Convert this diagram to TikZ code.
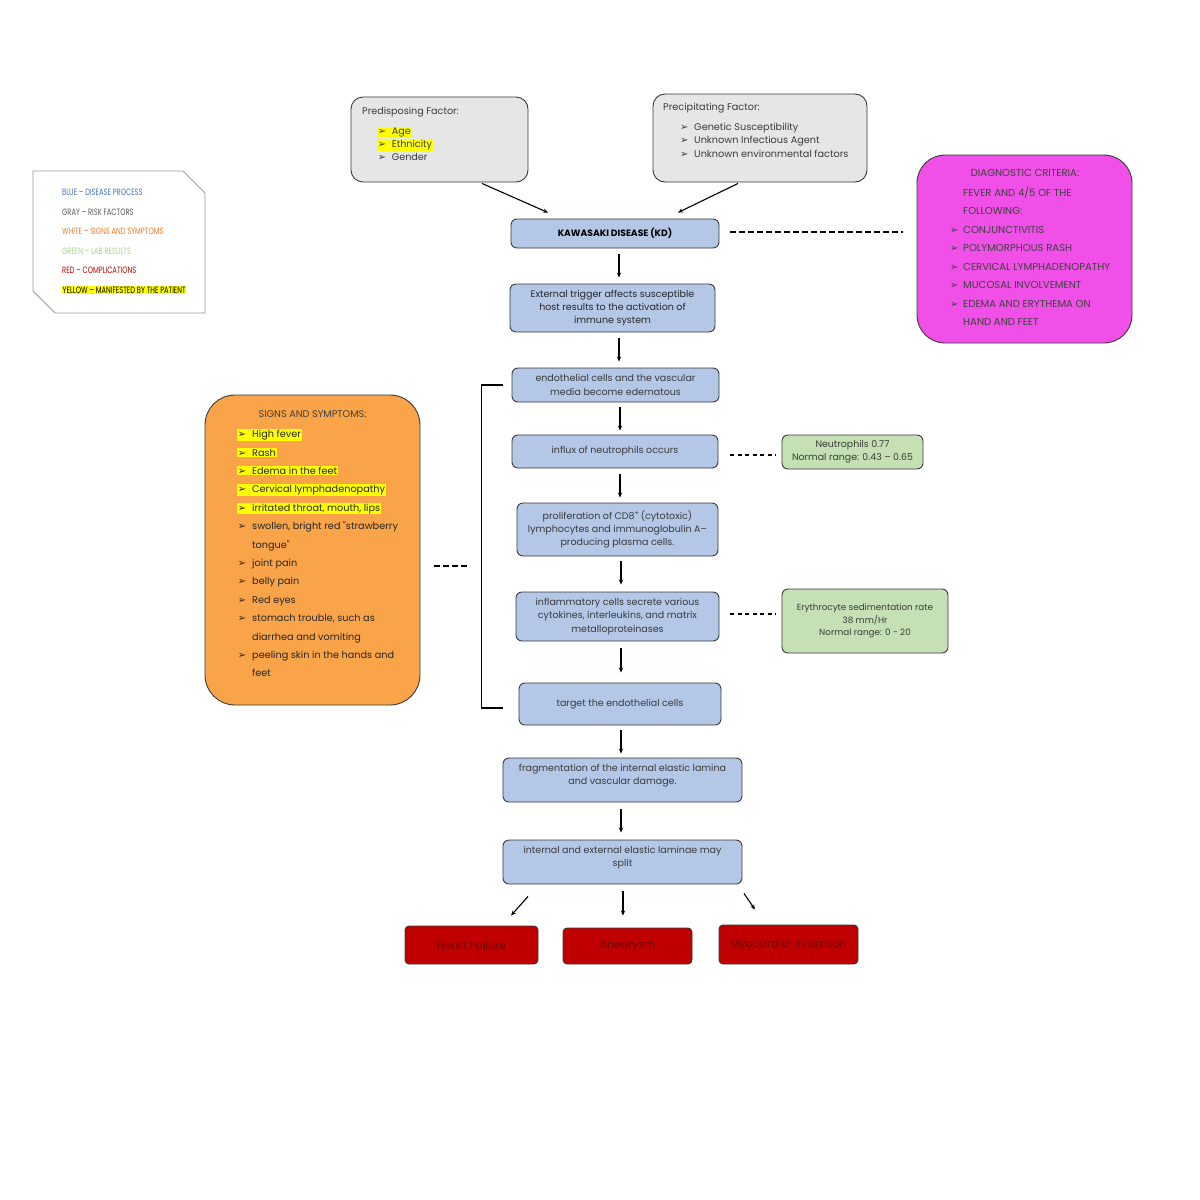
\documentclass[tikz,border=0pt]{standalone}
\usepackage{fontspec}
\setmainfont{Poppins}[Ligatures=TeXOff]
\newfontfamily\dej{DejaVu Sans}
\usetikzlibrary{arrows.meta}
\definecolor{bord}{HTML}{3A3A3A}
\definecolor{bluef}{HTML}{B4C7E7}
\definecolor{grayf}{HTML}{E7E6E6}
\definecolor{magf}{HTML}{F050E8}
\definecolor{orf}{HTML}{F9A449}
\definecolor{grf}{HTML}{C5E0B4}
\definecolor{redf}{HTML}{C00000}
\definecolor{redt}{HTML}{6E0000}
\definecolor{txt}{HTML}{3A3A3A}
\definecolor{dtxt}{HTML}{404040}
\definecolor{hly}{HTML}{FFFF00}
\definecolor{lgblue}{HTML}{4472C4}
\definecolor{lggray}{HTML}{595959}
\definecolor{lgor}{HTML}{ED7D31}
\definecolor{lggr}{HTML}{A9D18E}
\definecolor{lgred}{HTML}{C00000}
\newcommand{\bul}{{\dej\fontsize{10}{10}\selectfont ➢}}
\newcommand{\bl}[1]{\makebox[#1][l]{\bul}}
\newcommand{\hlt}[1]{{\setlength{\fboxsep}{0.7pt}\colorbox{hly}{#1}}}
\newcommand{\lgt}[1]{\scalebox{0.73}[1]{#1}}
\begin{document}
\begin{tikzpicture}[x=1pt,y=-1pt,
  flow/.style={draw=bord, fill=bluef, rounded corners=6pt, line width=0.9pt, align=center, text=txt, font=\fontsize{9.5}{13.2}\selectfont, inner sep=2pt},
  lab/.style={draw=bord, fill=grf, rounded corners=6pt, line width=0.9pt, align=center, text=txt, inner sep=2pt},
  comp/.style={draw=bord, fill=redf, rounded corners=4pt, line width=0.9pt, text=redt, font=\fontsize{11}{12}\selectfont, inner sep=2pt},
  riskbox/.style={draw=bord, fill=grayf, rounded corners=12pt, line width=0.9pt},
  lst/.style={inner sep=0pt, anchor=base west},
  arr/.style={-{Stealth[length=5pt,width=4.2pt]}, line width=1.1pt, black},
  dsh/.style={dashed, dash pattern=on 4pt off 3.5pt, line width=1.4pt, black},
  lg/.style={inner sep=0pt, anchor=base west, font=\fontsize{9.2}{10}\selectfont}
]
\useasboundingbox (0,0) rectangle (1200,1200);
\fill[white] (0,0) rectangle (1200,1200);

% legend
\draw[line width=0.8pt, draw=gray!80] (33,171) -- (183,171) -- (205,193) -- (205,313) -- (55,313) -- (33,291) -- cycle;
\node[lg, text=lgblue] (lg1) at (62,195.5) {\lgt{BLUE – DISEASE PROCESS}};
\node[lg, text=lggray] (lg2) at (62,215.5) {\lgt{GRAY – RISK FACTORS}};
\node[lg, text=lgor] (lg3) at (62,234.5) {\lgt{WHITE – SIGNS AND SYMPTOMS}};
\node[lg, text=lggr] (lg4) at (62,254.5) {\lgt{GREEN – LAB RESULTS}};
\node[lg, text=lgred] (lg5) at (62,273.5) {\lgt{RED – COMPLICATIONS}};
\node[lg, text=black] (lg6) at (62,293.5) {\lgt{\hlt{YELLOW – MANIFESTED BY THE PATIENT}}};

% risk factor boxes
\node[riskbox, minimum width=177, minimum height=85] (pred) at (439.5,139.5) {};
\begin{scope}[every node/.style={lst, text=txt, font=\fontsize{9.6}{11}\selectfont}]
\node (predt) at (362,114.5) {Predisposing Factor:};
\node (pred1) at (377,134.5) {\hlt{\bl{14pt}Age}};
\node (pred2) at (377,147.5) {\hlt{\bl{14pt}Ethnicity}};
\node (pred3) at (377.7,160.5) {\bl{14pt}Gender};
\end{scope}

\node[riskbox, minimum width=214, minimum height=88] (prec) at (760,138) {};
\begin{scope}[every node/.style={lst, text=txt, font=\fontsize{9.7}{11}\selectfont}]
\node (prect) at (663,110.5) {Precipitating Factor:};
\node (prec1) at (680,130.5) {\bl{14pt}Genetic Susceptibility};
\node (prec2) at (680,143.5) {\bl{14pt}Unknown Infectious Agent};
\node (prec3) at (680,157.5) {\bl{14pt}Unknown environmental factors};
\end{scope}

% flow
\node[flow, minimum width=208, minimum height=29, font=\bfseries\fontsize{9.2}{10}\selectfont, text=black] (kd) at (615,233.5) {KAWASAKI DISEASE (KD)};
\node[flow, minimum width=205, minimum height=48, text=black!85] (ext) at (612.5,308) {External trigger affects susceptible\\host results to the activation of\\immune system};
\node[flow, minimum width=207, minimum height=34] (endo) at (615.5,385) {endothelial cells and the vascular\\media become edematous};
\node[flow, minimum width=206, minimum height=33] (influx) at (615,451.5) {influx of neutrophils occurs};
\node[flow, minimum width=201, minimum height=53] (prolif) at (617.5,529.5) {proliferation of CD8\textsuperscript{+}\hspace{-1.5pt} (cytotoxic)\\lymphocytes and immunoglobulin A–\\producing plasma cells.};
\node[flow, minimum width=203, minimum height=49] (infl) at (617.5,616.5) {inflammatory cells secrete various\\cytokines, interleukins, and matrix\\metalloproteinases};
\node[flow, minimum width=202, minimum height=42] (target) at (620,704) {target the endothelial cells};
\node[flow, minimum width=239, minimum height=44] (frag) at (622.5,780) {fragmentation of the internal elastic lamina\\and vascular damage.\\[-2pt]};
\node[flow, minimum width=239, minimum height=44] (split) at (622.5,862) {internal and external elastic laminae may\\split\\[-2pt]};

% complications
\node[comp, minimum width=133, minimum height=38] (hf) at (471.5,945) {Heart Failure};
\node[comp, minimum width=129, minimum height=36] (an) at (627.5,946) {Aneurysm};
\node[comp, minimum width=139, minimum height=39] (mi) at (788.5,944.5) {Myocardial Infarction};

% lab results
\node[lab, minimum width=141, minimum height=34, font=\fontsize{9.4}{13}\selectfont] (neut) at (852.5,452) {Neutrophils 0.77\\Normal range: 0.43 – 0.65};
\node[lab, minimum width=166, minimum height=64, font=\fontsize{8.8}{12.5}\selectfont] (esr) at (865,621) {Erythrocyte sedimentation rate\\38 mm/Hr\\Normal range: 0 - 20};

% diagnostic criteria
\node[draw=bord, fill=magf, rounded corners=28pt, line width=0.9pt, minimum width=215, minimum height=188] (diag) at (1024.5,249) {};
\begin{scope}[every node/.style={lst, text=dtxt, font=\fontsize{10.1}{10}\selectfont}]
\node[anchor=base] (d0) at (1025,176.5) {DIAGNOSTIC CRITERIA:};
\node (d1) at (963,196.5) {FEVER AND 4/5 OF THE};
\node (d2) at (963,214.5) {FOLLOWING:};
\node (d3) at (950,233.5) {\bl{13pt}CONJUNCTIVITIS};
\node (d4) at (950,251.5) {\bl{13pt}POLYMORPHOUS RASH};
\node (d5) at (950,270.5) {\bl{13pt}CERVICAL LYMPHADENOPATHY};
\node (d6) at (950,288.5) {\bl{13pt}MUCOSAL INVOLVEMENT};
\node (d7) at (950,307.5) {\bl{13pt}EDEMA AND ERYTHEMA ON};
\node (d8) at (963,325.5) {HAND AND FEET};
\end{scope}

% signs and symptoms
\node[draw=bord, fill=orf, rounded corners=30pt, line width=0.9pt, minimum width=215, minimum height=310] (signs) at (312.5,550) {};
\begin{scope}[every node/.style={lst, text=black!85, font=\fontsize{9.7}{10}\selectfont}]
\node[anchor=base, text=dtxt] (s0) at (312.5,417.5) {SIGNS AND SYMPTOMS:};
\node (s1) at (237,437.5) {\hlt{\bl{14.3pt}High fever}};
\node (s2) at (237,456) {\hlt{\bl{14.3pt}Rash}};
\node (s3) at (237,474.5) {\hlt{\bl{14.3pt}Edema in the feet}};
\node (s4) at (237,492.5) {\hlt{\bl{14.3pt}Cervical lymphadenopathy}};
\node (s5) at (237,511) {\hlt{\bl{14.3pt}irritated throat, mouth, lips}};
\node (s6) at (237.7,529.5) {\bl{14.3pt}swollen, bright red "strawberry};
\node (s7) at (252,548) {tongue"};
\node (s8) at (237.7,566.5) {\bl{14.3pt}joint pain};
\node (s9) at (237.7,584.5) {\bl{14.3pt}belly pain};
\node (s10) at (237.7,603) {\bl{14.3pt}Red eyes};
\node (s11) at (237.7,621.5) {\bl{14.3pt}stomach trouble, such as};
\node (s12) at (252,640) {diarrhea and vomiting};
\node (s13) at (237.7,658.5) {\bl{14.3pt}peeling skin in the hands and};
\node (s14) at (252,676.5) {feet};
\end{scope}

% connectors
\draw[arr] ([shift={(42.5,1)}]pred.south) -- ([shift={(-67,-6)}]kd.north);
\draw[arr] ([shift={(-22,1)}]prec.south) -- ([shift={(63,-6)}]kd.north);
\draw[arr, shorten <=6pt, shorten >=6pt] (kd.south -| 619,0) -- (ext.north -| 619,0);
\draw[arr, shorten <=6pt, shorten >=6pt] (ext.south -| 619,0) -- (endo.north -| 619,0);
\draw[arr, shorten <=5pt, shorten >=4pt] (endo.south -| 620,0) -- (influx.north -| 620,0);
\draw[arr, shorten <=6pt, shorten >=5pt] (influx.south -| 620,0) -- (prolif.north -| 620,0);
\draw[arr, shorten <=5pt, shorten >=7pt] (prolif.south -| 621,0) -- (infl.north -| 621,0);
\draw[arr, shorten <=7pt, shorten >=10pt] (infl.south -| 621,0) -- (target.north -| 621,0);
\draw[arr, shorten <=5pt, shorten >=4pt] (target.south -| 621,0) -- (frag.north -| 621,0);
\draw[arr, shorten <=7pt, shorten >=7pt] (frag.south -| 621,0) -- (split.north -| 621,0);
\draw[arr] ([shift={(-94.5,12)}]split.south) -- ([shift={(39.5,-10)}]hf.north);
\draw[arr] ([shift={(0.5,7)}]split.south) -- ([shift={(-4.5,-12)}]an.north);
\draw[arr] ([shift={(121.5,9)}]split.south) -- ([shift={(-33.5,-15)}]mi.north);

% dashed links
\draw[dsh, line width=2pt, dash pattern=on 6pt off 3pt, shorten <=11pt, shorten >=14pt] ([shift={(0,-1.5)}]kd.east) -- ([shift={(0,-1.5)}]kd.east -| diag.west);
\draw[dsh, shorten <=12pt, shorten >=6pt] ([shift={(0,3.5)}]influx.east) -- ([shift={(0,3.5)}]influx.east -| neut.west);
\draw[dsh, shorten <=11pt, shorten >=6pt] ([shift={(0,-2.5)}]infl.east) -- ([shift={(0,-2.5)}]infl.east -| esr.west);
\draw[dsh, line width=2pt, dash pattern=on 6pt off 3pt] ([shift={(14,16)}]signs.east) -- ++(33,0);

% bracket
\draw[line width=1.1pt] ([xshift=-9pt]endo.west) -- ++(-21,0) |- ([shift={(-16,4)}]target.west);
\end{tikzpicture}
\end{document}
